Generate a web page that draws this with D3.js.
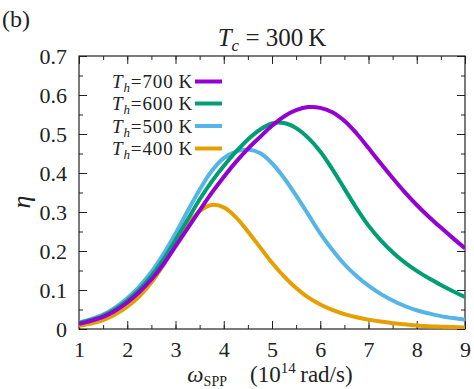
<!DOCTYPE html>
<html><head><meta charset="utf-8">
<script src="https://d3js.org/d3.v7.min.js"></script>
<style>
body{margin:0;background:#fff;}
</style></head>
<body><svg id="c" width="474" height="389"></svg>
<script>
const xs = d3.range(1, 9.001, 0.25);
const eta700 = [0.013,0.021,0.031,0.047,0.068,0.095,0.127,0.166,0.212,0.258,0.304,0.349,0.39,0.428,0.462,0.492,0.521,0.545,0.561,0.569,0.567,0.556,0.534,0.502,0.464,0.425,0.387,0.351,0.318,0.288,0.26,0.233,0.207];
const eta600 = [0.015,0.023,0.034,0.051,0.073,0.101,0.136,0.178,0.228,0.28,0.332,0.378,0.418,0.454,0.486,0.511,0.527,0.528,0.515,0.49,0.455,0.41,0.36,0.31,0.265,0.228,0.197,0.171,0.149,0.13,0.113,0.097,0.082];
const eta500 = [0.016,0.025,0.037,0.055,0.079,0.109,0.146,0.192,0.245,0.302,0.357,0.405,0.438,0.455,0.46,0.451,0.425,0.387,0.342,0.294,0.245,0.203,0.166,0.136,0.111,0.09,0.073,0.059,0.048,0.04,0.033,0.028,0.024];
const eta400 = [0.008,0.014,0.023,0.037,0.057,0.084,0.119,0.165,0.218,0.267,0.302,0.318,0.312,0.287,0.25,0.21,0.17,0.135,0.105,0.081,0.063,0.049,0.038,0.03,0.024,0.019,0.015,0.012,0.009,0.007,0.006,0.005,0.004];
const seriesNames = ["700","600","500","400"];
const seriesColors = ["#9400D3","#009E73","#56B4E9","#E69F00"];
const xTicks = [1,2,3,4,5,6,7,8,9];
const yTicks = [0,0.1,0.2,0.3,0.4,0.5,0.6,0.7];

const FONT = "'Liberation Serif', 'DejaVu Serif', serif";
const svg = d3.select("#c");
const L=79,R=465,T=56,B=329;
const x = d3.scaleLinear().domain([1,9]).range([L,R]);
const y = d3.scaleLinear().domain([0,0.7]).range([B,T]);

const xMinor = d3.range(1,9.01,0.5);
const yMinor = d3.range(0,0.701,0.05);

function axis(gen, tr, major, minor, fmt){
  const g = svg.append("g").attr("transform",tr);
  g.call(gen.tickValues(minor).tickSize(-4).tickFormat(""));
  const g2 = svg.append("g").attr("transform",tr);
  g2.call(gen.tickValues(major).tickSize(-8).tickPadding(fmt?12:0).tickFormat(fmt||""));
  [g,g2].forEach(gg=>{gg.select(".domain").remove(); gg.selectAll("line").attr("stroke","#222").attr("stroke-width",1);});
  g2.selectAll("text").attr("font-family",FONT).attr("font-size",22).attr("fill","#222");
  return g2;
}
axis(d3.axisBottom(x), `translate(0,${B})`, xTicks, xMinor, d=>d);
axis(d3.axisTop(x), `translate(0,${T})`, xTicks, xMinor, null);
axis(d3.axisLeft(y), `translate(${L},0)`, yTicks, yMinor, d=>d===0?"0":d.toFixed(1));
axis(d3.axisRight(y), `translate(${R},0)`, yTicks, yMinor, null);

svg.append("rect").attr("x",L).attr("y",T).attr("width",R-L).attr("height",B-T)
  .attr("fill","none").attr("stroke","#222").attr("stroke-width",1.2);

const data = [eta700,eta600,eta500,eta400];
const line = d3.line().x((d,i)=>x(xs[i])).y(d=>y(d)).curve(d3.curveCatmullRom.alpha(0.5));
svg.append("clipPath").attr("id","cp").append("rect").attr("x",L).attr("y",T-2).attr("width",R-L).attr("height",B-T+2);
const gLines = svg.append("g").attr("clip-path","url(#cp)");
[3,2,1,0].forEach(k=>{
  gLines.append("path").datum(data[k]).attr("d",line).attr("fill","none")
    .attr("stroke",seriesColors[k]).attr("stroke-width",4).attr("stroke-linejoin","round");
});

function txt(sel){ return sel.attr("font-family",FONT).attr("fill","#222"); }

// legend
const legY = [81.5,103.5,126,148.5];
seriesNames.forEach((n,i)=>{
  const t = txt(svg.append("text")).attr("x",193).attr("y",legY[i]+6.5).attr("text-anchor","end")
    .attr("font-size",19).attr("letter-spacing",0.9);
  t.append("tspan").attr("font-style","italic").text("T");
  t.append("tspan").attr("font-style","italic").attr("font-size",13).attr("dy",4).text("h");
  t.append("tspan").attr("dy",-4).text("=" + n + "\u2009K");
  svg.append("line").attr("x1",195).attr("x2",222).attr("y1",legY[i]).attr("y2",legY[i])
    .attr("stroke",seriesColors[i]).attr("stroke-width",4);
});

// title
const tt = txt(svg.append("text")).attr("x",272).attr("y",46).attr("text-anchor","middle").attr("font-size",25);
tt.append("tspan").attr("font-style","italic").text("T");
tt.append("tspan").attr("font-style","italic").attr("font-size",17).attr("dy",5).text("c");
tt.append("tspan").attr("dy",-5).text(" = 300\u2009K");

txt(svg.append("text")).attr("x",2).attr("y",27).attr("font-size",24).text("(b)");

// y label
txt(svg.append("text")).attr("transform","translate(30,202) rotate(-90)").attr("text-anchor","middle")
  .attr("font-size",26).attr("font-style","italic").text("\u03B7");

// x label
const xl = txt(svg.append("text")).attr("x",270).attr("y",382).attr("text-anchor","middle").attr("font-size",23);
xl.append("tspan").attr("font-style","italic").text("\u03C9");
xl.append("tspan").attr("font-size",14).attr("dy",4).text("SPP");
xl.append("tspan").attr("dy",-4).text("\u2003(10");
xl.append("tspan").attr("font-size",15).attr("dy",-9).text("14");
xl.append("tspan").attr("dy",9).text("\u2009rad/s)");
</script></body></html>
